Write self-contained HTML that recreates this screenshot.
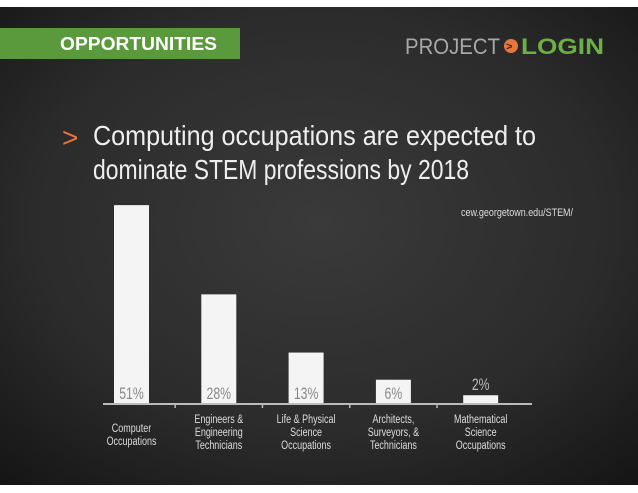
<!DOCTYPE html>
<html><head><meta charset="utf-8"><style>
html,body{margin:0;padding:0;background:#fff;width:638px;height:493px;overflow:hidden}
svg{display:block}
text{font-family:"Liberation Sans Narrow","Liberation Sans",sans-serif}
</style></head><body>
<svg id="chart" width="638" height="493" viewBox="0 0 638 493">
<defs>
<radialGradient id="bg" cx="0.5" cy="0.45" r="0.75">
<stop offset="0" stop-color="#3a3a3a"/><stop offset="0.6" stop-color="#2b2b2b"/><stop offset="1" stop-color="#141414"/>
</radialGradient>
</defs>
<rect x="0" y="7" width="638" height="478" fill="url(#bg)"/>
<rect x="0" y="28" width="240" height="31" fill="#5a9a3c"/>
<text x="60" y="50" font-size="18" font-weight="bold" fill="#fff" textLength="157" lengthAdjust="spacingAndGlyphs">OPPORTUNITIES</text>
<g>
<text x="405" y="54" font-size="22" fill="#a8a8a8" textLength="95" lengthAdjust="spacingAndGlyphs">PROJECT</text>
<circle cx="511" cy="46" r="7" fill="#e8763a"/>
<text x="506" y="50" font-size="11" font-weight="bold" fill="#2b2b2b">&gt;</text>
<text x="521" y="54" font-size="22" font-weight="bold" fill="#6bb043" textLength="83" lengthAdjust="spacingAndGlyphs">LOGIN</text>
</g>
<g>
<text x="62" y="147" font-size="28" fill="#e8763a">&gt;</text>
<text x="93" y="145" font-size="28" fill="#eee" textLength="443" lengthAdjust="spacingAndGlyphs">Computing occupations are expected to</text>
<text x="93" y="179" font-size="28" fill="#eee" textLength="376" lengthAdjust="spacingAndGlyphs">dominate STEM professions by 2018</text>
</g>
<text x="573" y="216" font-size="11" fill="#ddd" text-anchor="end" textLength="112" lengthAdjust="spacingAndGlyphs">cew.georgetown.edu/STEM/</text>
<g id="bars"></g>
</svg>
<script>
const categories=[["Computer","Occupations"],["Engineers &","Engineering","Technicians"],["Life & Physical","Science","Occupations"],["Architects,","Surveyors, &","Technicians"],["Mathematical","Science","Occupations"]];
const values=[51,28,13,6,2];
const valueLabels=["51%","28%","13%","6%","2%"];
const NS="http://www.w3.org/2000/svg";
const g=document.getElementById('bars');
const baseY=403, pxPer=3.88, x0=131.5, step=87.3, bw=35;
const yScale=v=>baseY-v*pxPer;
const xScale=i=>x0+i*step;
function mk(t,a){const e=document.createElementNS(NS,t);for(const k in a)e.setAttribute(k,a[k]);g.appendChild(e);return e;}
function narrow(e,f){const w=e.getComputedTextLength();e.setAttribute('textLength',w*f);e.setAttribute('lengthAdjust','spacingAndGlyphs');}
const axis=mk('line',{x1:103,y1:baseY+1,x2:532,y2:baseY+1,stroke:'#bbb','stroke-width':2});


for(let i=0;i<values.length-1;i++){
 const t=mk('line',{x1:xScale(i+0.5),y1:baseY+1,x2:xScale(i+0.5),y2:baseY+5,stroke:'#bbb','stroke-width':1.5});
 
 
}
values.forEach((v,i)=>{
 const cx=xScale(i),top=yScale(v);
 const r=mk('rect',{x:cx-bw/2,y:top,width:bw,height:baseY-top,fill:'#f4f4f4'});
 
 
 const inside=(baseY-top)>16;
 const lt=mk('text',{x:cx,y:inside?baseY-4:top-5,'font-size':17,fill:inside?'#8a8a8a':'#bbb','text-anchor':'middle'});
 lt.textContent=valueLabels[i];
 
 
 narrow(lt,0.72);
 const lines=categories[i];
 const startY=lines.length===2?432:423;
 lines.forEach((ln,j)=>{
  const c=mk('text',{x:cx,y:startY+j*13,'font-size':11.5,fill:'#ddd','text-anchor':'middle'});
  c.textContent=ln;
  
  
  narrow(c,0.78);
 });
});
</script>
</body></html>
